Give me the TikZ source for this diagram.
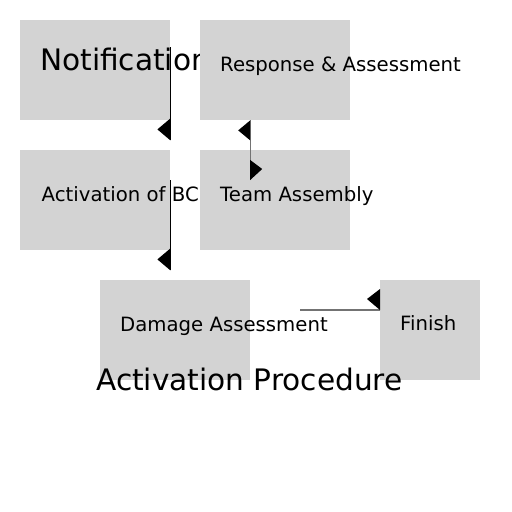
\documentclass[tikz,border=0pt]{standalone}
\usepackage{fontspec}
\setmainfont{DejaVu Sans}
\definecolor{boxgray}{HTML}{D3D3D3}

\begin{document}
\begin{tikzpicture}[x=1pt,y=-1pt,
  blk/.style={fill=boxgray,minimum width=150pt,minimum height=100pt,inner sep=0pt,anchor=north west},
  lab/.style={anchor=base west,inner sep=0pt,font=\fontsize{19.7}{23}\selectfont},
  big/.style={inner sep=0pt,font=\fontsize{29.6}{35}\selectfont},
  link/.style={line width=1.7pt},
  faint/.style={line width=1.1pt,draw=black!55}]
\useasboundingbox (0,0) rectangle (512,512);
% boxes, each followed by its text
\node[blk] (notif) at (20,20) {};
\node[lab,big] (tnotif) at (40,70) {Notification};
\node[blk] (resp) at (200,20) {};
\node[lab] (tresp) at (220,71) {Response \& Assessment};
\node[blk] (actbc) at (20,150) {};
\node[lab] (tactbc) at (41.5,201) {Activation of BC};
\node[blk] (team) at (200,150) {};
\node[lab] (tteam) at (220,201) {Team Assembly};
\node[blk] (damage) at (100,280) {};
\node[lab] (tdamage) at (120,331) {Damage Assessment};
\node[blk,minimum width=100pt] (finish) at (380,280) {};
\node[lab] (tfinish) at (400,330.5) {Finish};
% connector ends
\coordinate (s1) at ([yshift=-27pt]notif.north east);
\coordinate (e1) at ([yshift=-20pt]notif.south east);
\coordinate (s2) at ([xshift=-25pt]resp.south);
\coordinate (e2) at ([xshift=-25pt,yshift=-30pt]team.north);
\coordinate (s3) at ([yshift=-30pt]actbc.north east);
\coordinate (e3) at ([yshift=-20pt]actbc.south east);
\coordinate (s4) at ([xshift=50pt,yshift=-30pt]damage.north east);
\coordinate (e4) at ([yshift=-30pt]finish.north west);
% connectors with half heads
\draw[link] (s1) -- (e1);
\fill (e1) -- ++(-13,-11) -- ++(13,-11) -- cycle;
\draw[faint] (s2) -- (e2);
\fill (s2) -- ++(-12,10) -- ++(12,10) -- cycle;
\fill (e2) -- ++(12,-11) -- ++(-12,-9) -- cycle;
\draw[link] (s3) -- (e3);
\fill (e3) -- ++(-13,-11) -- ++(13,-11) -- cycle;
\draw[faint] (s4) -- (e4);
\fill (e4) -- ++(-13,-11) -- ++(13,-10) -- cycle;
\node[big,anchor=base] (title) at (249.5,390) {Activation Procedure};
\end{tikzpicture}
\end{document}
